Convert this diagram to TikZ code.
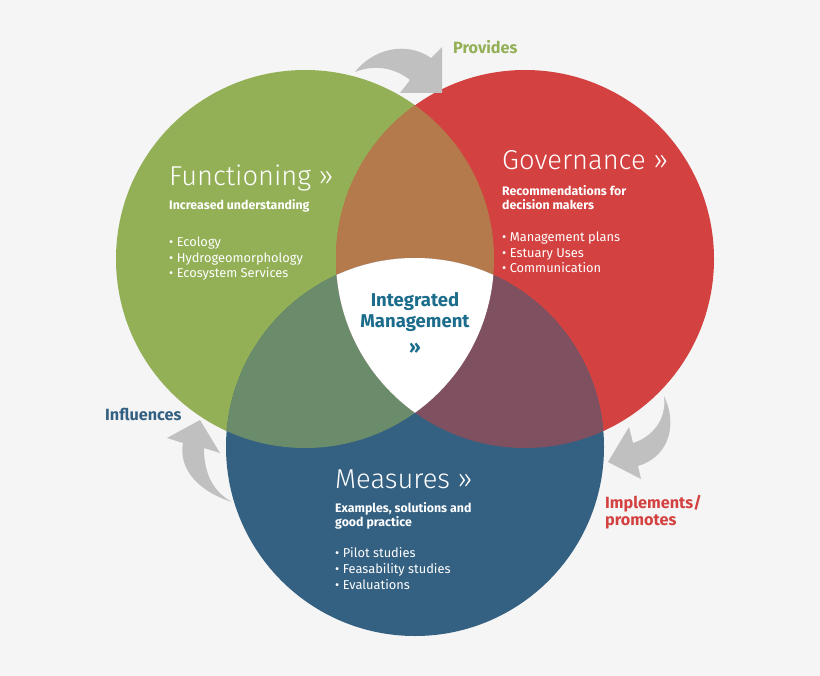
\documentclass[tikz,border=0pt]{standalone}
\usepackage{fontspec}
\setmainfont{Fira Sans}
\newfontfamily\lightfont{Fira Sans Light}
\definecolor{bg}{HTML}{F5F5F5}
\definecolor{cgreen}{HTML}{93B057}
\definecolor{cred}{HTML}{D34240}
\definecolor{cblue}{HTML}{346182}
\definecolor{cgr}{HTML}{B47A4B}
\definecolor{cgb}{HTML}{6B8C6A}
\definecolor{crb}{HTML}{7F5060}
\definecolor{cteal}{HTML}{1C6C8C}
\definecolor{agray}{HTML}{C0C0C0}
\tikzset{
  txt/.style={inner sep=0pt, anchor=base west, text=white},
  title/.style={txt, font=\lightfont\fontsize{27.4}{30}\selectfont},
  sub/.style={txt, font=\bfseries\fontsize{12.4}{14}\selectfont},
  item/.style={txt, font=\fontsize{12.9}{15}\selectfont},
  center/.style={inner sep=0pt, anchor=base, text=cteal, font=\bfseries\fontsize{18.6}{20}\selectfont},
  lab/.style={inner sep=0pt, anchor=base west, font=\bfseries\fontsize{16.3}{18}\selectfont},
  bigarrow/.style={fill=agray}
}
\begin{document}
\begin{tikzpicture}[x=1bp,y=-1bp]
\useasboundingbox (0,0) rectangle (820,676);
\fill[bg] (0,0) rectangle (820,676);
\coordinate (cg) at (305,259);
\coordinate (cr) at (525,259);
\coordinate (cb) at (415,447);
\def\rad{189bp}
% circles
\fill[cgreen] (cg) circle[radius=\rad];
\fill[cred] (cr) circle[radius=\rad];
\fill[cblue] (cb) circle[radius=\rad];
\begin{scope}
  \clip (cg) circle[radius=\rad];
  \fill[cgr] (cr) circle[radius=\rad];
  \fill[cgb] (cb) circle[radius=\rad];
  \clip (cr) circle[radius=\rad];
  \fill[white] (cb) circle[radius=\rad];
\end{scope}
\begin{scope}
  \clip (cr) circle[radius=\rad];
  \clip (cb) circle[radius=\rad];
  \fill[crb] (cb) circle[radius=\rad];
  \clip (cg) circle[radius=\rad];
  \fill[white] (cb) circle[radius=\rad];
\end{scope}
% arrows
\coordinate (t1) at (355,72);
\fill[bigarrow] (t1) .. controls (372,50) and (405,40) .. (431,58) -- (442,47) -- (442,93) -- (400,93) -- (410,80) .. controls (395,68) and (375,64) .. (t1) -- cycle;
\coordinate (t2) at (664,396);
\fill[bigarrow] (t2) .. controls (676,420) and (673,455) .. (638,466) -- (641,479) -- (608,462) -- (629,427) -- (633,443) .. controls (652,437) and (667,420) .. (t2) -- cycle;
\coordinate (t3) at (232,502);
\fill[bigarrow] (t3) .. controls (200,492) and (178,470) .. (183,443) -- (167,438) -- (200,420) -- (220,453) -- (204,448) .. controls (204,475) and (214,492) .. (t3) -- cycle;
% Functioning
\node[title] (ftitle) at (169,185) {Functioning »};
\node[sub] (fsub) at (169,209) {Increased understanding};
\node[item] (f1) at (169,246) {• Ecology};
\node[item] (f2) at (169,262) {• Hydrogeomorphology};
\node[item] (f3) at (169,277) {• Ecosystem Services};
% Governance
\node[title] (gtitle) at (502,169) {Governance »};
\node[sub] (gsub1) at (502,195) {Recommendations for};
\node[sub] (gsub2) at (502,209) {decision makers};
\node[item] (g1) at (502,241) {• Management plans};
\node[item] (g2) at (502,257) {• Estuary Uses};
\node[item] (g3) at (502,272) {• Communication};
% Measures
\node[title] (mtitle) at (335,488) {Measures »};
\node[sub] (msub1) at (335,512) {Examples, solutions and};
\node[sub] (msub2) at (335,526) {good practice};
\node[item] (m1) at (335,557) {• Pilot studies};
\node[item] (m2) at (335,573) {• Feasability studies};
\node[item] (m3) at (335,589) {• Evaluations};
% center
\node[center] (c1) at (415,306) {Integrated};
\node[center] (c2) at (415,327) {Management};
\node[center] (c3) at (415,353) {»};
% labels
\node[lab, text=cgreen] (prov) at (453,54) {Provides};
\node[lab, text=cblue] (infl) at (105,420) {Influences};
\node[lab, text=cred] (impl1) at (605,508) {Implements/};
\node[lab, text=cred] (impl2) at (605,525) {promotes};
\end{tikzpicture}
\end{document}
